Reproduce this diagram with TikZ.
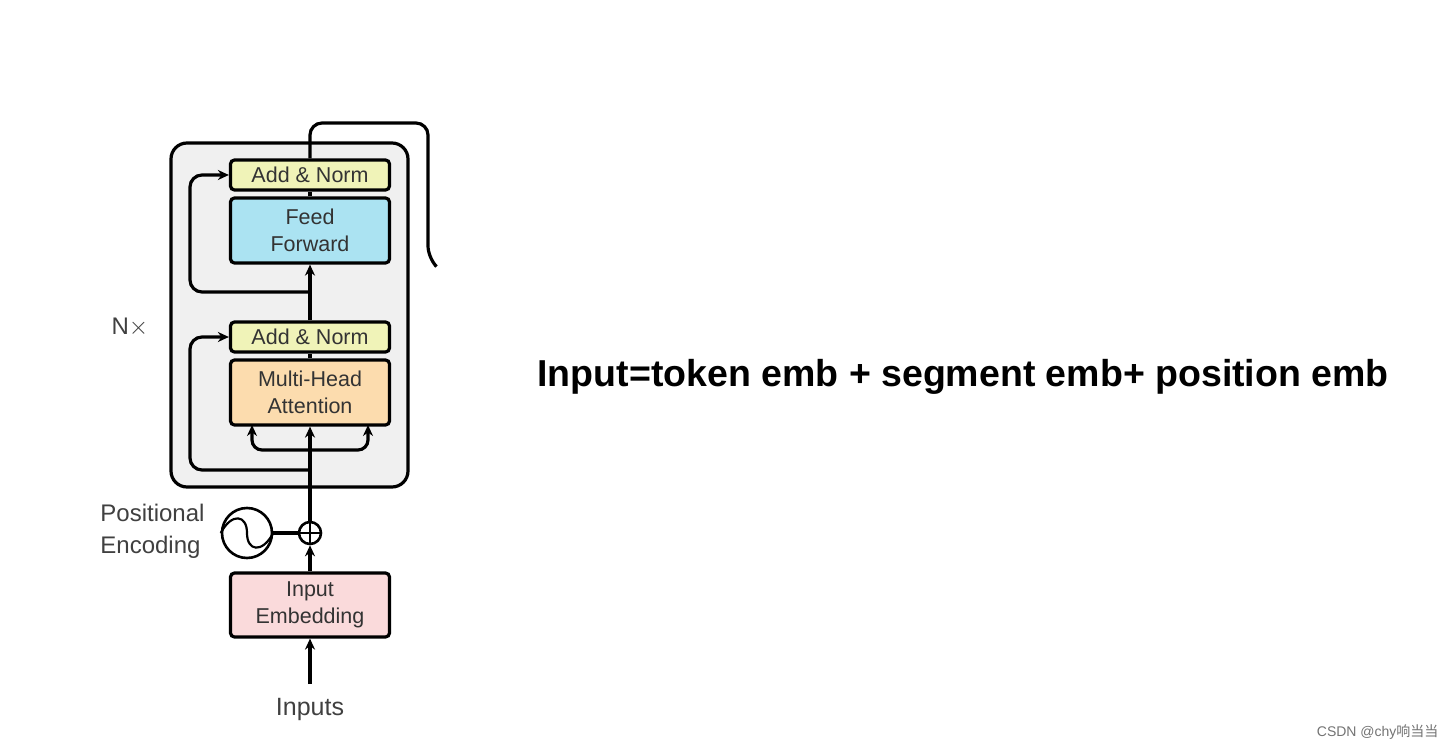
\documentclass[tikz,border=0pt]{standalone}
\usepackage{fontspec}
\setmainfont{Liberation Sans}
\newfontfamily\cjkf{Noto Sans CJK SC}
\usetikzlibrary{arrows.meta}
\begin{document}
\begin{tikzpicture}[x=1pt,y=-1pt,
  blk/.style={draw=black,line width=3.2pt,rounded corners=4pt,minimum width=159pt,font=\fontsize{21.5}{27}\selectfont,text=black!80,align=center,inner sep=0pt},
  ln/.style={line width=3.2pt},
  ar/.style={ln,-{Stealth[length=11pt,width=10pt]}},
  lbl/.style={font=\fontsize{24}{32}\selectfont,text=black!75,align=left}]
\path[use as bounding box] (0,0) rectangle (1455,751);
\fill[white] (0,0) rectangle (1455,751);
\draw[line width=3.2pt,fill=black!6,rounded corners=16pt] (171,143) rectangle (408,487);
\node[blk,fill={rgb,255:red,240;green,243;blue,184},minimum height=30pt] (an2) at (310,175) {Add \& Norm};
\node[blk,fill={rgb,255:red,171;green,227;blue,242},minimum height=65pt] (ff) at (310,230.5) {Feed\\Forward};
\node[blk,fill={rgb,255:red,240;green,243;blue,184},minimum height=30pt] (an1) at (310,337) {Add \& Norm};
\node[blk,fill={rgb,255:red,252;green,220;blue,174},minimum height=65pt] (mha) at (310,392.5) {Multi-Head\\Attention};
\node[blk,fill={rgb,255:red,250;green,218;blue,219},minimum height=64pt] (emb) at (310,605) {Input\\Embedding};
\node[draw,line width=2.6pt,circle,minimum size=22pt,inner sep=0pt,fill=white] (plus) at (310,533) {};
\draw[line width=2.2pt] (plus.north)--(plus.south) (plus.west)--(plus.east);
\node[draw,line width=2.6pt,circle,minimum size=50pt,inner sep=0pt] (pe) at (247,533) {};
\draw[line width=2.2pt] (pe.west) .. controls (232,512) and (247,515) .. (247,533) .. controls (247,551) and (262,554) .. (pe.east);
\node[font=\fontsize{25}{30}\selectfont,text=black!75] (inp) at (310,709) {Inputs};
\coordinate (inb) at (310,684);
\node[lbl,anchor=east] (pel) at (208,531) {Positional\\Encoding};
\node[font=\fontsize{24}{30}\selectfont,text=black!75] (nx) at (130,327) {N$\times$};
% main flow
\draw[ar] (inb) -- (emb.south);
\draw[ar] (emb.north) -- (plus.south);
\draw[ln] (pe.east) -- (plus.west);
\draw[ar] (plus.north) -- (mha.south);
\draw[ln] (mha.north) -- (an1.south);
\draw[ar] (an1.north) -- (ff.south);
\draw[ln] (ff.north) -- (an2.south);
% branches
\coordinate (b0) at (310,450);
\draw[ar,rounded corners=10pt] (b0) -| (252,425);
\draw[ar,rounded corners=10pt] (b0) -| (368,425);
\coordinate (r1) at (310,470);
\draw[ar,rounded corners=12pt] (r1) -| (190,337) -- (an1.west);
\coordinate (r2) at (310,292);
\draw[ar,rounded corners=12pt] (r2) -| (190,175) -- (an2.west);
% exit
\coordinate (ex) at (435,265);
\draw[ln,rounded corners=12pt] (an2.north) -- (310,123) -- (428,123) -- (428,258) -- (ex);
\node[font=\bfseries\fontsize{37.5}{44}\selectfont,anchor=west] (t) at (534,377) {Input=token emb + segment emb+ position emb};
\node[font=\fontsize{14}{16}\selectfont,text=black!55,anchor=east] (w) at (1442,732) {CSDN @chy{\cjkf 响当当}};
\end{tikzpicture}
\end{document}
